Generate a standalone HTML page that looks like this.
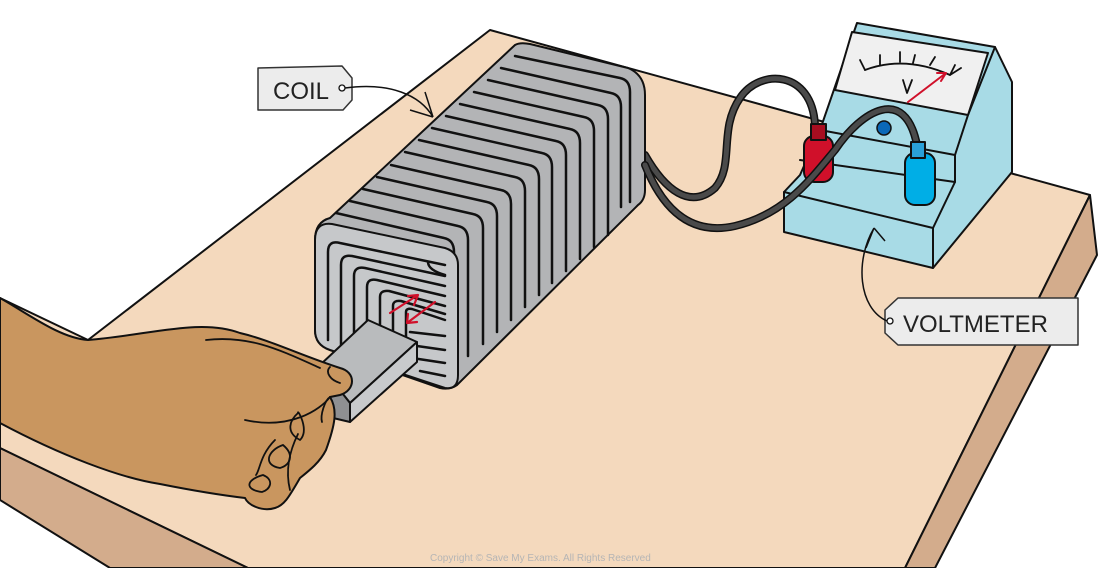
<!DOCTYPE html>
<html><head><meta charset="utf-8"><style>
html,body{margin:0;padding:0;background:#fff;width:1100px;height:568px;overflow:hidden}
svg{display:block}
text{font-family:"Liberation Sans",sans-serif}
</style></head><body>
<svg width="1100" height="568" viewBox="0 0 1100 568" xmlns="http://www.w3.org/2000/svg">
<g stroke="#111" stroke-width="2" stroke-linejoin="round" stroke-linecap="round">
<!-- table -->
<polygon points="490,30 1090,195 905,568 248,568 0,448 0,298 88,340" fill="#f4d9bd"/>
<polygon points="1090,195 1097,255 935,568 905,568" fill="#d3ac8c"/>
<polygon points="0,448 248,568 110,568 0,500" fill="#d3ac8c"/>
<!-- red wire -->
<path d="M645,155 C665,190 690,210 715,188 C735,165 718,130 740,98 C760,68 812,70 815,125" fill="none" stroke="#111" stroke-width="8"/>
<path d="M645,155 C665,190 690,210 715,188 C735,165 718,130 740,98 C760,68 812,70 815,125" fill="none" stroke="#4a4a4a" stroke-width="5"/>
<!-- coil body -->
<path d="M315,240 Q315,222 330,218 L515,45 Q520,42 530,44 L628,68 Q645,75 645,95 L645,190 Q645,200 638,205 L457,385 Q450,390 440,388 L330,350 Q315,345 315,330 Z" fill="#b3b4b6"/>
<g fill="none" stroke-width="2.5">
<path d="M336,213 l108,25 q10,2 10,14 l0,120"/>
<path d="M350,201 l108,25 q10,2 10,14 l0,116"/>
<path d="M363,189 l110,25 q10,2 10,14 l0,116"/>
<path d="M377,177 l110,25 q10,2 10,14 l0,116"/>
<path d="M391,165 l110,25 q10,2 10,14 l0,116"/>
<path d="M405,152 l110,25 q10,2 10,14 l0,116"/>
<path d="M419,140 l110,25 q10,2 10,14 l0,116"/>
<path d="M432,128 l110,25 q10,2 10,14 l0,116"/>
<path d="M446,116 l110,25 q10,2 10,14 l0,116"/>
<path d="M460,104 l110,25 q10,2 10,14 l0,116"/>
<path d="M474,92 l110,25 q10,2 10,14 l0,116"/>
<path d="M488,80 l110,25 q10,2 10,14 l0,116"/>
<path d="M501,68 l110,25 q10,2 10,14 l0,100"/>
<path d="M515,56 l105,22 q10,2 10,14 l0,110"/>
</g>
<!-- front face -->
<path d="M315,240 Q315,222 332,224 L445,248 Q458,252 458,265 L458,375 Q458,390 445,388 L330,350 Q315,345 315,330 Z" fill="#c6c8ca"/>
<g fill="none" stroke-width="2.5">
<path d="M328,340 V252 Q328,240 340,243 L445,265"/>
<path d="M341,345 V265 Q341,254 352,256 L445,276"/>
<path d="M354,350 V276 Q354,266 365,268 L445,286"/>
<path d="M367,355 V287 Q367,278 377,280 L445,296"/>
<path d="M380,360 V297 Q380,290 389,291 L445,306"/>
<path d="M393,355 V306 Q393,300 401,301 L445,314"/>
<path d="M406,345 V312 Q406,308 412,309 L445,320"/>
<path d="M428,262 Q428,270 445,275"/>
<path d="M410,332 L445,336"/><path d="M410,345 L445,350"/><path d="M412,358 L445,363"/><path d="M420,371 L445,376"/>
</g>
<path d="M390,313 L418,295 M408,296 L418,295 L414,305 M435,302 L407,323 M408,314 L407,323 L417,322" fill="none" stroke="#d0102a" stroke-width="2.2"/>
<!-- magnet -->
<polygon points="320,365 368,320 417,342 350,403" fill="#b9bbbd"/>
<polygon points="417,342 417,362 350,422 350,403" fill="#c8cacc"/>
<polygon points="320,365 350,403 350,422 333,418" fill="#8f9092"/>
<!-- hand -->
<path d="M0,298 C30,315 60,338 88,340 C150,335 200,318 240,333 C270,340 300,355 340,368 C356,372 356,390 340,395 L330,397 C338,410 335,425 326,450 C320,462 310,470 300,478 C290,495 285,505 275,508 C262,512 248,505 245,498 C220,495 190,490 160,484 C120,478 60,455 0,423 Z" fill="#c9965f"/>
<g fill="none" stroke-width="1.8">
<path d="M206,340 C250,335 280,350 320,368"/>
<path d="M330,367 C325,372 330,380 340,383"/>
<path d="M245,420 C290,430 320,410 330,397"/>
<path d="M275,440 C260,455 260,470 256,475"/>
<path d="M298,434 C290,450 285,470 290,490"/>
<path d="M298,413 C290,420 285,432 300,440 C310,430 297,408 298,413"/>
<path d="M283,445 C268,450 262,465 280,468 C290,465 295,455 283,445"/>
<path d="M263,475 C245,480 245,490 262,492 C270,490 275,480 263,475"/>
<path d="M330,397 C325,400 320,415 322,422"/>
</g>
<!-- voltmeter -->
<polygon points="857,23 995,47 1012,82 1012,172 933,268 784,232 784,192 800,175 820,130" fill="#a8dbe6"/>
<path d="M995,47 L968,115 L955,155 L955,182 L933,228 L933,268" fill="none"/>
<path d="M820,130 L955,155 M800,160 L955,182 M784,192 L933,228" fill="none"/>
<polygon points="852,32 988,53 968,115 835,90" fill="#f0f0f0"/>
<path d="M865,70 Q905,55 950,75" fill="none" stroke-width="1.8"/>
<path d="M860,60 L865,70 M880,55 L880,65 M900,52 L900,62 M915,55 L913,63 M935,57 L930,65 M955,65 L950,75 L961,68" fill="none" stroke-width="1.8"/>
<path d="M903,80 L907,93 L912,80" fill="none" stroke-width="1.8"/>
<path d="M908,102 L946,73 M937,73 L946,73 L941,81" fill="none" stroke="#d0102a" stroke-width="2"/>
<circle cx="884" cy="128" r="7" fill="#0a68b8" stroke-width="1.5"/>
<rect x="804" y="136" width="29" height="46" rx="10" fill="#d0102a"/>
<rect x="811" y="124" width="15" height="16" fill="#a80d20"/>
<!-- blue wire in front -->
<path d="M645,165 C665,215 695,235 735,226 C785,214 810,180 835,150 C862,110 905,85 917,145" fill="none" stroke="#111" stroke-width="8"/>
<path d="M645,165 C665,215 695,235 735,226 C785,214 810,180 835,150 C862,110 905,85 917,145" fill="none" stroke="#4a4a4a" stroke-width="5"/>
<rect x="905" y="153" width="30" height="52" rx="10" fill="#00aee6"/>
<rect x="911" y="142" width="14" height="16" fill="#2aa0d8"/>
</g>
<!-- labels -->
<g stroke="#333" stroke-width="1.5" fill="#ececec" stroke-linejoin="round">
<polygon points="258,68 342,66 352,78 352,100 343,110 258,110"/>
<polygon points="898,298 1078,298 1078,345 898,345 885,333 885,310"/>
</g>
<circle cx="342" cy="88" r="3" fill="#fff" stroke="#111" stroke-width="1.3"/>
<circle cx="890" cy="321" r="3" fill="#fff" stroke="#111" stroke-width="1.3"/>
<g fill="none" stroke="#111" stroke-width="1.5">
<path d="M345,88 C390,82 420,95 433,117 M410,110 L433,117 M425,92 L433,117"/>
<path d="M887,321 C858,308 855,260 874,228 M866,248 L874,228 M885,241 L874,228"/>
</g>
<text x="273" y="99" font-size="24" fill="#222">COIL</text>
<text x="903" y="332" font-size="24" fill="#222">VOLTMETER</text>
<text x="430" y="561" font-size="10" fill="#b5b5b5">Copyright © Save My Exams. All Rights Reserved</text>
</svg>
</body></html>
